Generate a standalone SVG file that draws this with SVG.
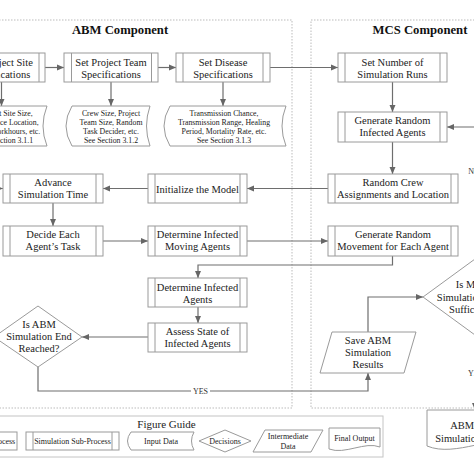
<svg xmlns="http://www.w3.org/2000/svg" width="474" height="474" viewBox="0 0 474 474">
<defs>
<marker id="ah" markerUnits="userSpaceOnUse" markerWidth="8" markerHeight="7" refX="7" refY="3.5" orient="auto"><path d="M0,0.5 L7,3.5 L0,6.5 z" fill="#666"/></marker>
</defs>
<style>
.t{font-family:"Liberation Serif","Times New Roman",serif;font-size:10.5px;fill:#222;text-anchor:middle}
.d{font-size:7.8px}
.g{font-size:8px}
.fg{font-size:11px}
.title{font-family:"Liberation Serif","Times New Roman",serif;font-size:12.7px;font-weight:bold;fill:#111;text-anchor:middle}
.box{fill:#fff;stroke:#9a9a9a;stroke-width:1}
.in{stroke:#9a9a9a;stroke-width:1}
.cont{fill:none;stroke:#bbb;stroke-width:1;stroke-dasharray:1.5 1.5}
.leg{fill:none;stroke:#c4c4c4;stroke-width:1}
.c{fill:none;stroke:#6e6e6e;stroke-width:1.2}
.ca{marker-end:url(#ah)}
.lb{fill:#fff}
.lbl{font-family:"Liberation Serif","Times New Roman",serif;font-size:8px;fill:#333;text-anchor:middle}
</style>
<rect x="0" y="0" width="474" height="474" fill="#fff"/>

<g id="abm-container">
<rect class="cont" x="-10" y="20" width="302" height="388"/>
<text class="title" x="120" y="33.5">ABM Component</text>
</g>
<g id="mcs-container">
<rect class="cont" x="311" y="20" width="200" height="388"/>
<text class="title" x="420" y="33.5">MCS Component</text>
</g>

<g id="connectors">
<path class="c ca" d="M45,67.5 H64"/>
<path class="c ca" d="M158,67.5 H176"/>
<path class="c ca" d="M270,67.5 H338"/>
<path class="c ca" d="M1.5,82 V106"/>
<path class="c ca" d="M111,82 V106"/>
<path class="c ca" d="M223,82 V106"/>
<path class="c ca" d="M392.5,82 V112"/>
<path class="c ca" d="M392.5,142 V174"/>
<path class="c ca" d="M328,188.5 H247"/>
<path class="c ca" d="M148,188.5 H103"/>
<path class="c ca" d="M53,203 V226"/>
<path class="c ca" d="M103,241 H148"/>
<path class="c ca" d="M247,241 H328"/>
<path class="c ca" d="M392.5,256 V265 H198 V278"/>
<path class="c ca" d="M198,307 V323"/>
<path class="c ca" d="M148,337 H82"/>
<path class="c ca" d="M-6,337 H-14 V188.5 H3"/>
<path class="c ca" d="M38,367 V391 H368 V373"/>
<rect class="lb" x="191" y="386" width="19" height="10"/>
<text class="lbl" x="200.5" y="394">YES</text>
<path class="c ca" d="M368,332 V297 H423"/>
<path class="c ca" d="M475,259 V127 H447"/>
<rect class="lb" x="466" y="166" width="16" height="10"/>
<text class="lbl" x="474" y="174">NO</text>
<path class="c ca" d="M475,335 V410"/>
<rect class="lb" x="466" y="368" width="19" height="10"/>
<text class="lbl" x="475.5" y="376">YES</text>
</g>

<g id="n-site">
<rect class="box" x="-46" y="53" width="91" height="29"/>
<path class="in" d="M-39,53 V82 M39,53 V82"/>
<text class="t" x="0.5"><tspan x="0.5" y="65.7">Set Project Site</tspan><tspan x="0.5" y="77.7">Specifications</tspan></text>
</g>
<g id="n-team">
<rect class="box" x="64" y="53" width="94" height="29"/>
<path class="in" d="M71.5,53 V82 M151.5,53 V82"/>
<text class="t"><tspan x="111" y="65.7">Set Project Team</tspan><tspan x="111" y="77.7">Specifications</tspan></text>
</g>
<g id="n-disease">
<rect class="box" x="176" y="53" width="94" height="29"/>
<path class="in" d="M183,53 V82 M263,53 V82"/>
<text class="t"><tspan x="223" y="65.7">Set Disease</tspan><tspan x="223" y="77.7">Specifications</tspan></text>
</g>
<g id="n-runs">
<rect class="box" x="338" y="53" width="109" height="29"/>
<path class="in" d="M345,53 V82 M440,53 V82"/>
<text class="t"><tspan x="392.5" y="65.5">Set Number of</tspan><tspan x="392.5" y="77.7">Simulation Runs</tspan></text>
</g>

<g id="d-site">
<path class="box" d="M-40,106 H47 Q39,126 47,146 H-40 Q-52,126 -40,106 Z"/>
<text class="t d"><tspan x="6" y="115.8">Project Site Size,</tspan><tspan x="6" y="124.8">Workplace Location,</tspan><tspan x="6" y="133.8">Daily Workhours, etc.</tspan><tspan x="6" y="142.8">See Section 3.1.1</tspan></text>
</g>
<g id="d-team">
<path class="box" d="M72,106 H150 Q143,126 150,146 H72 Q60,126 72,106 Z"/>
<text class="t d"><tspan x="111" y="115.8">Crew Size, Project</tspan><tspan x="111" y="124.8">Team Size, Random</tspan><tspan x="111" y="133.8">Task Decider, etc.</tspan><tspan x="111" y="142.8">See Section 3.1.2</tspan></text>
</g>
<g id="d-disease">
<path class="box" d="M170,106 H286 Q278,126 286,146 H170 Q158,126 170,106 Z"/>
<text class="t d"><tspan x="224" y="115.8">Transmission Chance,</tspan><tspan x="224" y="124.8">Transmission Range, Healing</tspan><tspan x="224" y="133.8">Period, Mortality Rate, etc.</tspan><tspan x="224" y="142.8">See Section 3.1.3</tspan></text>
</g>

<g id="n-infected">
<rect class="box" x="338" y="112" width="109" height="30"/>
<path class="in" d="M345,112 V142 M440,112 V142"/>
<text class="t"><tspan x="392.5" y="124">Generate Random</tspan><tspan x="392.5" y="136.2">Infected Agents</tspan></text>
</g>
<g id="n-crew">
<rect class="box" x="328" y="174" width="130" height="29"/>
<path class="in" d="M335,174 V203 M451,174 V203"/>
<text class="t"><tspan x="393" y="185.7">Random Crew</tspan><tspan x="393" y="197.7">Assignments and Location</tspan></text>
</g>
<g id="n-init">
<rect class="box" x="148" y="174" width="99" height="29"/>
<path class="in" d="M155,174 V203 M240,174 V203"/>
<text class="t" x="197.5" y="192.5">Initialize the Model</text>
</g>
<g id="n-advance">
<rect class="box" x="3" y="174" width="100" height="29"/>
<path class="in" d="M10,174 V203 M96,174 V203"/>
<text class="t"><tspan x="53" y="185.7">Advance</tspan><tspan x="53" y="197.7">Simulation Time</tspan></text>
</g>
<g id="n-decide">
<rect class="box" x="3" y="226" width="100" height="30"/>
<path class="in" d="M10,226 V256 M96,226 V256"/>
<text class="t"><tspan x="53" y="237.7">Decide Each</tspan><tspan x="53" y="250">Agent’s Task</tspan></text>
</g>
<g id="n-moving">
<rect class="box" x="148" y="226" width="99" height="30"/>
<path class="in" d="M155,226 V256 M240,226 V256"/>
<text class="t"><tspan x="197.5" y="237.7">Determine Infected</tspan><tspan x="197.5" y="250">Moving Agents</tspan></text>
</g>
<g id="n-movement">
<rect class="box" x="328" y="226" width="130" height="30"/>
<path class="in" d="M335,226 V256 M451,226 V256"/>
<text class="t"><tspan x="393" y="237.7">Generate Random</tspan><tspan x="393" y="250">Movement for Each Agent</tspan></text>
</g>
<g id="n-determine">
<rect class="box" x="148" y="278" width="99" height="29"/>
<path class="in" d="M155,278 V307 M240,278 V307"/>
<text class="t"><tspan x="197.5" y="290.5">Determine Infected</tspan><tspan x="197.5" y="302.5">Agents</tspan></text>
</g>
<g id="n-assess">
<rect class="box" x="148" y="323" width="99" height="29"/>
<path class="in" d="M155,323 V352 M240,323 V352"/>
<text class="t"><tspan x="197.5" y="334.5">Assess State of</tspan><tspan x="197.5" y="346.5">Infected Agents</tspan></text>
</g>
<g id="q-abm">
<path class="box" d="M38,306 L82,337 L38,367 L-6,337 Z"/>
<text class="t"><tspan x="39" y="327.5">Is ABM</tspan><tspan x="39" y="339.5">Simulation End</tspan><tspan x="39" y="351.5">Reached?</tspan></text>
</g>
<g id="d-save">
<path class="box" d="M332,332 H416 L404,373 H320 Z"/>
<text class="t"><tspan x="368" y="343.5">Save ABM</tspan><tspan x="368" y="355.5">Simulation</tspan><tspan x="368" y="367.5">Results</tspan></text>
</g>
<g id="q-mcs">
<path class="box" d="M423,297 L475,259 L527,297 L475,335 Z"/>
<text class="t"><tspan x="472" y="288">Is MCS</tspan><tspan x="472" y="300.5">Simulation Runs</tspan><tspan x="472" y="313">Sufficient?</tspan></text>
</g>
<g id="o-final">
<path class="box" d="M427,410 H523 V443 C494,433 456,458 427,446 Z"/>
<text class="t"><tspan x="475" y="428.5">ABM-MCS</tspan><tspan x="475" y="441.5">Simulation Results</tspan></text>
</g>

<g id="legend">
<rect class="leg" x="-10" y="416" width="393" height="41"/>
<text class="t fg" x="166.5" y="428">Figure Guide</text>
<rect class="box" x="-14" y="432" width="31" height="18"/>
<text class="t g" x="3" y="443.8">Process</text>
<rect class="box" x="26" y="432" width="93" height="18"/>
<path class="in" d="M33,432 V450 M112,432 V450"/>
<text class="t g" x="72.5" y="443.8">Simulation Sub-Process</text>
<path class="box" d="M131,432 H194 Q189,441 194,450 H131 Q124,441 131,432 Z"/>
<text class="t g" x="161" y="443.8">Input Data</text>
<path class="box" d="M199,441 L225,430 L251,441 L225,452 Z"/>
<text class="t g" x="225" y="443.8">Decisions</text>
<path class="box" d="M265,430 H323 L311,452 H253 Z"/>
<text class="t g"><tspan x="288" y="439">Intermediate</tspan><tspan x="288" y="449">Data</tspan></text>
<path class="box" d="M329,428 H380 V447 C365,441 345,455 329,449 Z"/>
<text class="t g" x="354.5" y="441">Final Output</text>
</g>
</svg>
